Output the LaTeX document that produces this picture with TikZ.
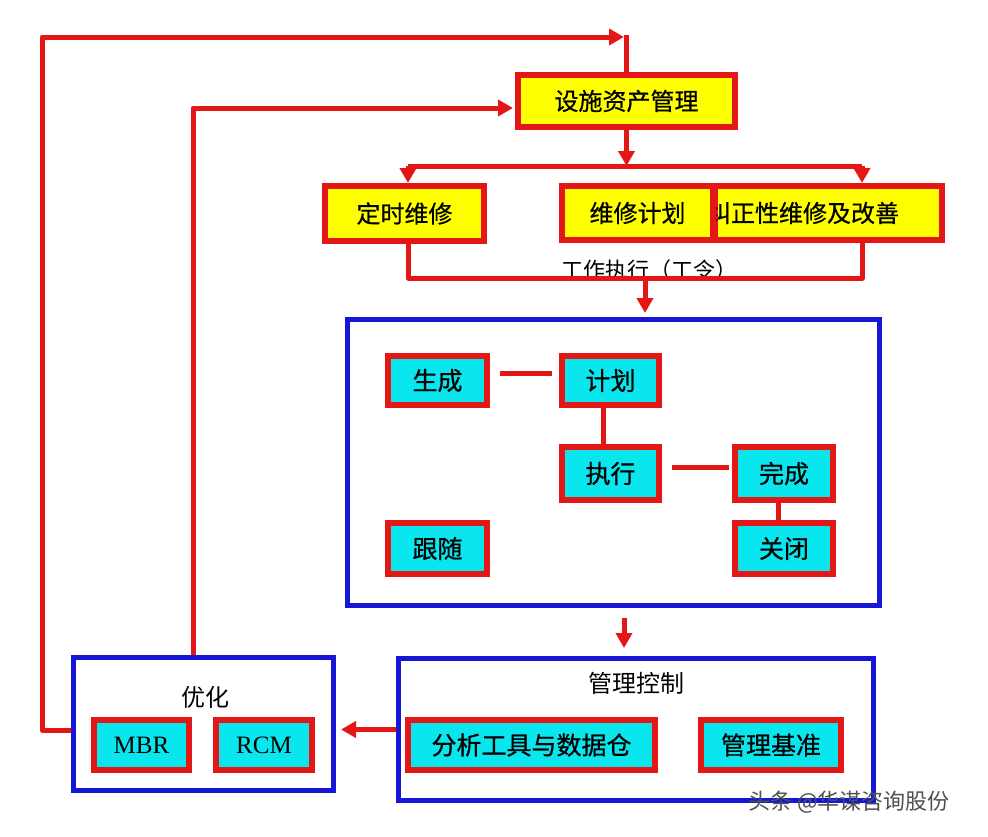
\documentclass[tikz,border=0pt]{standalone}
\usepackage{fontspec}
\newfontfamily\cjk{Noto Sans CJK SC}
\newfontfamily\cjkb[FakeBold=0.7]{Noto Sans CJK SC}
\newfontfamily\latserif{Liberation Serif}
\usetikzlibrary{arrows.meta,calc}
\definecolor{rd}{RGB}{228,22,22}
\definecolor{bl}{RGB}{22,22,215}
\definecolor{yl}{RGB}{255,255,0}
\definecolor{cy}{RGB}{10,230,238}
\definecolor{wmgray}{RGB}{80,80,80}
\begin{document}
\begin{tikzpicture}[x=1pt,y=-1pt,
  redline/.style={draw=rd, line width=5pt, line join=round},
  arr/.style={redline, -{Triangle[length=15pt,width=16pt]}},
  ybox/.style={draw=rd, line width=6pt, fill=yl, inner sep=0pt, font=\cjkb\fontsize{24}{28}\selectfont},
  cbox/.style={draw=rd, line width=6pt, fill=cy, inner sep=0pt, font=\cjkb\fontsize{25}{28}\selectfont},
  bbox/.style={draw=bl, line width=5pt, inner sep=0pt},
  ttl/.style={font=\cjk\fontsize{24}{28}\selectfont},
  ]
\useasboundingbox[fill=white] (0,0) rectangle (988,836);

% top boxes
\node[ybox, minimum width=217pt, minimum height=52pt] (sz) at (626.5,101) {设施资产管理};
\node[ybox, minimum width=159pt, minimum height=55pt] (ds) at (404.5,213.5) {定时维修};
\node[ybox, minimum width=227pt, minimum height=54pt] (jz) at (828.5,213) {};
\node[font=\cjkb\fontsize{24}{28}\selectfont] (jzt) at (803,213) {纠正性维修及改善};
\node[ybox, minimum width=151pt, minimum height=54pt] (wx) at (637.5,213) {维修计划};

% big blue box and inner boxes
\node[bbox, minimum width=532pt, minimum height=286pt] (big) at (613.5,462.5) {};
\node[cbox, minimum width=99pt, minimum height=49pt] (sc) at (437.5,380.5) {生成};
\node[cbox, minimum width=97pt, minimum height=49pt] (jh) at (610.5,380.5) {计划};
\node[cbox, minimum width=97pt, minimum height=53pt] (zx) at (610.5,473.5) {执行};
\node[cbox, minimum width=98pt, minimum height=53pt] (wc) at (784,473.5) {完成};
\node[cbox, minimum width=98pt, minimum height=51pt] (gb) at (784,548.5) {关闭};
\node[cbox, minimum width=99pt, minimum height=51pt] (gs) at (437.5,548.5) {跟随};

% bottom boxes
\node[bbox, minimum width=475pt, minimum height=142pt] (mc) at (636,729.5) {};
\node[ttl] (mct) at (636,683) {管理控制};
\node[cbox, minimum width=247pt, minimum height=50pt] (fx) at (531.5,745) {分析工具与数据仓};
\node[cbox, minimum width=140pt, minimum height=50pt] (jz2) at (771,745) {管理基准};

\node[bbox, minimum width=260pt, minimum height=133pt] (yh) at (203.5,724) {};
\node[ttl] (yht) at (205,697) {优化};
\node[cbox, minimum width=95pt, minimum height=50pt, font=\latserif\fontsize{25}{28}\selectfont] (mbr) at (141.5,745) {MBR};
\node[cbox, minimum width=96pt, minimum height=50pt, font=\latserif\fontsize{25}{28}\selectfont] (rcm) at (264,745) {RCM};

% inner connectors
\draw[redline, shorten <=10pt, shorten >=7pt] ([yshift=7.5pt]sc.east) -- ([yshift=7.5pt]jh.west);
\draw[redline] ([xshift=-7.5pt]jh.south) -- ([xshift=-7.5pt]zx.north);
\draw[redline, shorten <=10pt, shorten >=3pt] ([yshift=6.5pt]zx.east) -- ([yshift=6.5pt]wc.west);
\draw[redline] ([xshift=-6pt]wc.south) -- ([xshift=-6pt]gb.north);

% distribution from top box
\coordinate (barL) at (408,166);
\coordinate (barR) at (862,166);
\draw[arr] (sz.south) -- (sz.south |- barL);
\draw[redline] (barL) -- (barR);
\draw[arr] (barL) -- (barL |- ds.north);
\draw[arr] (barR) -- (barR |- jz.north);

% work execution collector
\node[font=\cjk\fontsize{22}{24}\selectfont] (gz) at (649,270) {工作执行（工令）};
\coordinate (bl) at (408,278);
\coordinate (br) at (862,278);
\coordinate (bm) at (645,278);
\draw[redline] (ds.south -| bl) -- (bl) -- (br) -- (jz.south -| br);
\draw[arr, shorten >=4pt] (bm) -- (bm |- big.north);

% big -> management control
\coordinate (x624) at (624,0);
\draw[arr, shorten <=9.5pt, shorten >=8pt] (big.south -| x624) -- (mc.north -| x624);

% management control -> optimisation
\draw[arr, shorten >=5pt] (mc.west) -- (mc.west -| yh.east);

% feedback loops
\coordinate (tl) at (42,37);
\coordinate (tr) at (624,37);
\draw[arr] ([yshift=-6pt]yh.west) -| (tl) -- (tr);
\draw[redline] (sz.north) -- ([yshift=2.5pt]sz.north |- tl);
\coordinate (il) at (193,0);
\draw[arr, shorten >=2pt] (yh.north -| il) |- ([yshift=-7pt]sz.west);

% watermark
\node[font=\cjk\fontsize{22}{24}\selectfont, text=wmgray] (wm) at (849,802) {头条 @华谋咨询股份};
\end{tikzpicture}
\end{document}
